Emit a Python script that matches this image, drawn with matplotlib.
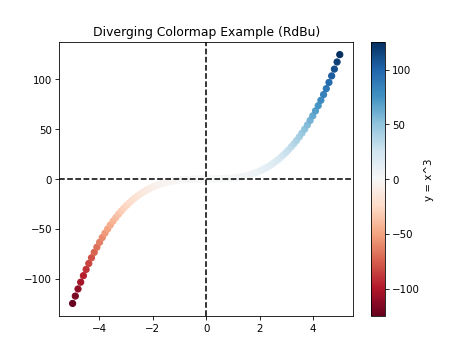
import matplotlib
matplotlib.use("Agg")
import matplotlib.pyplot as plt

# x positions of the dots (100 evenly spaced, -5 .. 5)
x_vals = [
    -5.0, -4.899, -4.798, -4.697, -4.596, -4.495, -4.394, -4.293, -4.192, -4.091,
    -3.990, -3.889, -3.788, -3.687, -3.586, -3.485, -3.384, -3.283, -3.182, -3.081,
    -2.980, -2.879, -2.778, -2.677, -2.576, -2.475, -2.374, -2.273, -2.172, -2.071,
    -1.970, -1.869, -1.768, -1.667, -1.566, -1.465, -1.364, -1.263, -1.162, -1.061,
    -0.960, -0.859, -0.758, -0.657, -0.556, -0.455, -0.354, -0.253, -0.152, -0.051,
    0.051, 0.152, 0.253, 0.354, 0.455, 0.556, 0.657, 0.758, 0.859, 0.960,
    1.061, 1.162, 1.263, 1.364, 1.465, 1.566, 1.667, 1.768, 1.869, 1.970,
    2.071, 2.172, 2.273, 2.374, 2.475, 2.576, 2.677, 2.778, 2.879, 2.980,
    3.081, 3.182, 3.283, 3.384, 3.485, 3.586, 3.687, 3.788, 3.889, 3.990,
    4.091, 4.192, 4.293, 4.394, 4.495, 4.596, 4.697, 4.798, 4.899, 5.0,
]

# y values (also used for the colour)
y_vals = [
    -125.0, -117.58, -110.45, -103.62, -97.08, -90.82, -84.83, -79.12, -73.66, -68.46,
    -63.52, -58.81, -54.35, -50.12, -46.11, -42.32, -38.75, -35.38, -32.21, -29.24,
    -26.46, -23.86, -21.43, -19.18, -17.09, -15.16, -13.38, -11.74, -10.24, -8.88,
    -7.64, -6.53, -5.52, -4.63, -3.84, -3.14, -2.54, -2.01, -1.57, -1.19,
    -0.88, -0.63, -0.43, -0.28, -0.17, -0.09, -0.04, -0.02, -0.003, -0.0001,
    0.0001, 0.003, 0.02, 0.04, 0.09, 0.17, 0.28, 0.43, 0.63, 0.88,
    1.19, 1.57, 2.01, 2.54, 3.14, 3.84, 4.63, 5.52, 6.53, 7.64,
    8.88, 10.24, 11.74, 13.38, 15.16, 17.09, 19.18, 21.43, 23.86, 26.46,
    29.24, 32.21, 35.38, 38.75, 42.32, 46.11, 50.12, 54.35, 58.81, 63.52,
    68.46, 73.66, 79.12, 84.83, 90.82, 97.08, 103.62, 110.45, 117.58, 125.0,
]

fig, ax = plt.subplots(figsize=(6.4, 4.8), dpi=474 / 6.4)

sc = ax.scatter(x_vals, y_vals, c=y_vals, cmap='RdBu')
ax.axhline(0, color='black', linestyle='--')
ax.axvline(0, color='black', linestyle='--')

cbar = fig.colorbar(sc, ax=ax)
cbar.set_label('y = x^3')
ax.set_title('Diverging Colormap Example (RdBu)')

fig.savefig('out.png', dpi=474 / 6.4)
